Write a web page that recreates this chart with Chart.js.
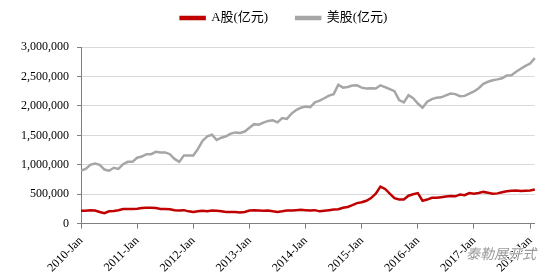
<!DOCTYPE html>
<html><head><meta charset="utf-8">
<script src="https://cdn.jsdelivr.net/npm/chart.js@4.4.0/dist/chart.umd.min.js"></script>
<style>
html,body{margin:0;padding:0;background:#fff;}
#wrap{position:relative;width:550px;height:275px;}
#wm{position:absolute;left:466px;top:243px;font:italic 14px "Noto Sans CJK SC",sans-serif;color:#9a9a9a;
text-shadow:-1px 0 #fff,1px 0 #fff,0 -1px #fff,0 1px #fff;pointer-events:none;}
</style></head>
<body><div id="wrap"><canvas id="c" width="550" height="275"></canvas><div id="wm">泰勒展开式</div></div>
<script>
const months = ['Jan','Feb','Mar','Apr','May','Jun','Jul','Aug','Sep','Oct','Nov','Dec'];
const categories = [];
for (let y = 2010; y <= 2018; y++) for (let m = 0; m < 12; m++) {
  if (categories.length < 98) categories.push(y + '-' + months[m]);
}
const seriesNames = ['A股(亿元)', '美股(亿元)'];
// values in millions of 亿元 (×1e6 below)
const aShares = [
 0.22,0.22,0.23,0.225,0.20,0.18,0.21,0.215,0.23,0.25,0.25,0.25,
 0.255,0.265,0.27,0.27,0.265,0.25,0.25,0.245,0.23,0.225,0.23,0.21,
 0.20,0.21,0.22,0.21,0.225,0.22,0.21,0.20,0.20,0.20,0.19,0.20,
 0.225,0.23,0.225,0.22,0.225,0.21,0.20,0.21,0.225,0.225,0.23,0.235,
 0.23,0.225,0.23,0.21,0.22,0.23,0.24,0.245,0.27,0.285,0.315,0.35,
 0.365,0.39,0.435,0.51,0.63,0.59,0.51,0.435,0.41,0.41,0.475,0.50,
 0.52,0.39,0.41,0.44,0.44,0.45,0.46,0.47,0.465,0.495,0.485,0.52,
 0.51,0.52,0.54,0.525,0.51,0.515,0.535,0.55,0.56,0.565,0.555,0.56,
 0.565,0.58
].map(v => v * 1e6);
const usShares = [
 0.90,0.93,1.00,1.02,1.00,0.92,0.90,0.95,0.93,1.01,1.05,1.05,
 1.12,1.14,1.18,1.18,1.22,1.21,1.21,1.18,1.10,1.05,1.16,1.16,
 1.16,1.27,1.41,1.485,1.51,1.42,1.46,1.485,1.53,1.55,1.54,1.565,
 1.63,1.69,1.68,1.716,1.745,1.755,1.72,1.795,1.78,1.87,1.93,1.97,
 1.99,1.98,2.06,2.09,2.13,2.175,2.20,2.36,2.31,2.32,2.345,2.35,
 2.31,2.295,2.30,2.295,2.35,2.32,2.285,2.25,2.10,2.06,2.18,2.13,
 2.04,1.97,2.07,2.115,2.14,2.145,2.18,2.21,2.20,2.165,2.17,2.21,
 2.245,2.30,2.375,2.41,2.435,2.45,2.47,2.515,2.52,2.58,2.63,2.68,
 2.72,2.81
].map(v => v * 1e6);
const yTicks = [0, 500000, 1000000, 1500000, 2000000, 2500000, 3000000];

const serif = '"Liberation Serif","Times New Roman",serif';
const legendFont = '"Liberation Serif","Noto Sans CJK SC",serif';

const legendShift = {
  id: 'legendShift',
  afterLayout(chart) {
    const lg = chart.legend;
    if (!lg) return;
    const dx = 9;
    const dy = -16.5 - lg.top;
    lg.left += dx; lg.right += dx;
    lg.top += dy; lg.bottom += dy;
  }
};

new Chart(document.getElementById('c'), {
  type: 'line',
  data: {
    labels: categories,
    datasets: [
      {label: seriesNames[0], data: aShares, borderColor: '#C00000', backgroundColor: '#C00000', borderWidth: 2.5, pointRadius: 0, tension: 0},
      {label: seriesNames[1], data: usShares, borderColor: '#A6A6A6', backgroundColor: '#A6A6A6', borderWidth: 2.5, pointRadius: 0, tension: 0}
    ]
  },
  plugins: [legendShift],
  options: {
    responsive: false, animation: false,
    layout: {padding: {left: 13, right: 13, top: -4, bottom: -5}},
    plugins: {
      tooltip: {enabled: false},
      legend: {
        position: 'top',
        labels: {boxWidth: 24, boxHeight: 2, padding: 28, color: '#000', font: {family: legendFont, size: 13}}
      }
    },
    scales: {
      x: {
        type: 'category',
        grid: {drawOnChartArea: false, drawTicks: true, tickLength: 5,
               tickColor: ctx => (ctx.index % 12 === 0 ? '#808080' : 'rgba(0,0,0,0)')},
        border: {color: '#808080', width: 1},
        ticks: {autoSkip: false, minRotation: 45, maxRotation: 45, padding: 5, color: '#000',
                font: {family: serif, size: 12},
                callback: function(v, i) { return i % 12 === 0 ? categories[i] : ''; }}
      },
      y: {
        min: 0, max: 3000000,
        afterBuildTicks: ax => { ax.ticks = yTicks.map(v => ({value: v})); },
        grid: {color: '#D9D9D9', lineWidth: 1, tickLength: 4, tickColor: '#808080'},
        border: {color: '#808080', width: 1},
        ticks: {padding: 8, color: '#000', font: {family: serif, size: 12},
                callback: v => Number(v).toLocaleString('en-US')}
      }
    }
  }
});
</script>
</body></html>
